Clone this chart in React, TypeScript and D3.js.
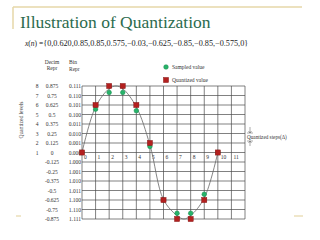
import * as d3 from "d3";

const W = 320;
const H = 240;

// Values as drawn in the picture.
const samples = [0, 0.57, 0.79, 0.79, 0.55, 0.08, -0.625, -0.8, -0.8, -0.55, 0];
const quantized = [0, 0.625, 0.875, 0.875, 0.625, 0.125, -0.625, -0.875, -0.875, -0.625, 0];
const curveN = [0, 1, 2, 2.5, 3, 4, 5, 6, 7, 7.5, 8, 9, 10];
const curveV = [0, 0.6, 0.84, 0.875, 0.84, 0.6, 0.1, -0.62, -0.83, -0.875, -0.83, -0.6, 0];

const levels = [0.875, 0.75, 0.625, 0.5, 0.375, 0.25, 0.125, 0, -0.125, -0.25, -0.375, -0.5, -0.625, -0.75, -0.875];
const decimLabels = ["0.875", "0.75", "0.625", "0.5", "0.375", "0.25", "0.125", "0", "-0.125", "-0.25", "-0.375", "-0.5", "-0.625", "-0.75", "-0.875"];
const binLabels = ["0.111", "0.110", "0.101", "0.100", "0.011", "0.010", "0.001", "0.000", "1.000", "1.001", "1.010", "1.011", "1.100", "1.110", "1.111"];
const levelNums = ["8", "7", "6", "5", "4", "3", "2", "1"];
const xTicks = d3.range(0, 12);

const FORMULA = "{0,0.620,0.85,0.85,0.575,\u22120.03,\u22120.625,\u22120.85,\u22120.85,\u22120.575,0}";

export default function App() {
  const x = d3.scaleLinear().domain([0, 12]).range([82, 245]);
  const y = d3.scaleLinear().domain([-0.875, 0.875]).range([219, 86]);
  const line = d3
    .line<number>()
    .x((_, i) => x(curveN[i]))
    .y((d) => y(d))
    .curve(d3.curveCatmullRom);
  const serif = "'Liberation Serif', 'DejaVu Serif', serif";
  const tan = "#e6d7a8";
  const grid = "#4a4a4a";

  return (
    <svg width={W} height={H} viewBox={`0 0 ${W} ${H}`} style={{ position: "absolute", left: 0, top: 0, background: "#fff" }} fontFamily={serif}>
      <rect width={W} height={H} fill="#fff" />
      {/* slide frame */}
      <line x1={13} x2={302} y1={7} y2={7} stroke={tan} strokeWidth={1.5} />
      <line x1={13} x2={13} y1={7} y2={29} stroke={tan} strokeWidth={1.5} />
      <line x1={16} x2={21} y1={216} y2={216} stroke={tan} strokeWidth={1.2} />
      <line x1={294} x2={303} y1={216} y2={216} stroke={tan} strokeWidth={1.2} />

      <text x={20} y={28} fontSize={17.5} fill="#2c6b4e">Illustration of Quantization</text>
      <text x={25} y={46} fontSize={7.5} fill="#222">
        <tspan fontStyle="italic">x</tspan>(<tspan fontStyle="italic">n</tspan>) = 
        <tspan textLength={205} lengthAdjust="spacingAndGlyphs">{FORMULA}</tspan>
      </text>

      {/* headers */}
      <g fontSize={5.5} fill="#333">
        <text x={52} y={64} textAnchor="middle">Decim</text>
        <text x={52} y={70} textAnchor="middle">Repr</text>
        <text x={69} y={64}>Bin</text>
        <text x={69} y={71}>Repr</text>
      </g>
      <text transform={`translate(23,120) rotate(-90)`} fontSize={5.5} textAnchor="middle" fill="#333">Quantized levels</text>

      {/* left table */}
      <g fontSize={5.5} fill="#333">
        {levelNums.map((t, i) => (
          <text key={"n" + t} x={37} y={y(levels[i]) + 2} textAnchor="middle">{t}</text>
        ))}
        {decimLabels.map((t, i) => (
          <text key={"d" + i} x={52} y={y(levels[i]) + 2} textAnchor="middle">{t}</text>
        ))}
        {binLabels.map((t, i) => (
          <text key={"b" + i} x={81} y={y(levels[i]) + 2} textAnchor="end">{t}</text>
        ))}
      </g>

      {/* grid */}
      <g stroke={grid} strokeWidth={0.7}>
        {levels.map((v) => (
          <line key={"h" + v} x1={x(0)} x2={x(12)} y1={y(v)} y2={y(v)} />
        ))}
        {d3.range(0, 13).map((i) => (
          <line key={"v" + i} x1={x(i)} x2={x(i)} y1={y(0.875)} y2={y(-0.875)} />
        ))}
      </g>
      <g fontSize={5.5} fill="#333">
        {xTicks.map((i) => (
          <text key={"t" + i} x={x(i) + (i === 10 ? 3 : 2)} y={158.5}>{i}</text>
        ))}
      </g>

      {/* curve and markers */}
      <path d={line(curveV) ?? ""} fill="none" stroke="#666" strokeWidth={0.8} />
      {samples.map((v, i) => (
        <circle key={"s" + i} cx={x(i)} cy={y(v)} r={2.3} fill="#27b36a" stroke="#178a4c" strokeWidth={0.5} />
      ))}
      {quantized.map((v, i) => (
        <rect key={"q" + i} x={x(i) - 2.6} y={y(v) - 2.6} width={5.2} height={5.2} fill="#b3201f" stroke="#7a1010" strokeWidth={0.4} />
      ))}

      {/* legend */}
      <circle cx={166} cy={67} r={2.3} fill="#27b36a" stroke="#178a4c" strokeWidth={0.5} />
      <text x={172} y={69} fontSize={5.5} fill="#333">Sampled value</text>
      <rect x={163.4} y={77.4} width={5.2} height={5.2} fill="#b3201f" stroke="#7a1010" strokeWidth={0.4} />
      <text x={172} y={82} fontSize={5.5} fill="#333">Quantized value</text>

      {/* quantized step annotation */}
      <g stroke="#555" strokeWidth={0.5} fill="none">
        <line x1={250} x2={250} y1={127} y2={133} />
        <line x1={247} x2={253} y1={133} y2={133} />
        <path d="M248.5,131 L250,133 L251.5,131" />
        <line x1={247} x2={253} y1={141} y2={141} />
        <line x1={250} x2={250} y1={141} y2={146} />
        <path d="M248.5,143 L250,141 L251.5,143" />
      </g>
      <text x={247} y={139} fontSize={5.2} fill="#333">Quantized steps(Δ)</text>
    </svg>
  );
}
